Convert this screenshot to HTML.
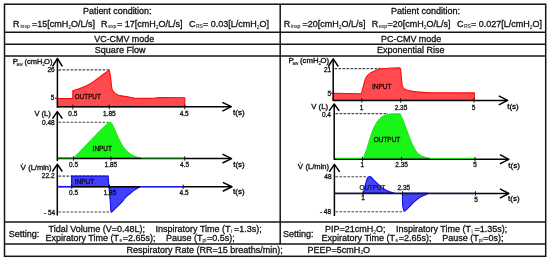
<!DOCTYPE html>
<html><head><meta charset="utf-8">
<style>
html,body{margin:0;padding:0;background:#fff;width:550px;height:262px;overflow:hidden}
svg{display:block}
text{font-family:"Liberation Sans",Arial,sans-serif;fill:#111;stroke:#111;stroke-width:0.3px}
.h{font-size:9px}
.s{font-size:5px;stroke-width:0.1px;fill:#333}
.s2{font-size:4.6px;stroke-width:0.1px}
.ax{font-size:8px;stroke-width:0.35px}
.tk{font-size:6.5px;stroke-width:0.3px}
.lb{font-size:6.5px;fill:#200}
.ln{stroke:#151515;stroke-width:1.5;fill:none}
.axl{stroke:#000;stroke-width:1.5;fill:none;stroke-linejoin:round;stroke-linecap:butt}
.dash{stroke:#444;stroke-width:1.1;stroke-dasharray:2.6 1.4;fill:none}
.tick{stroke:#000;stroke-width:0.9}
</style></head><body>
<svg width="550" height="262" viewBox="0 0 550 262">
<rect x="0" y="0" width="550" height="262" fill="#fff"/>

<!-- table grid -->
<rect x="4.5" y="4.2" width="541.2" height="252.1" class="ln"/>
<line x1="4" y1="32.3" x2="546" y2="32.3" class="ln"/>
<line x1="4" y1="44.2" x2="546" y2="44.2" class="ln"/>
<line x1="4" y1="55.9" x2="546" y2="55.9" class="ln"/>
<line x1="4" y1="222" x2="546" y2="222" class="ln"/>
<line x1="4" y1="244.1" x2="546" y2="244.1" class="ln"/>
<line x1="280.2" y1="4" x2="280.2" y2="244" class="ln"/>

<!-- header left -->
<text class="h" x="83" y="14" textLength="68.5" lengthAdjust="spacingAndGlyphs">Patient condition:</text>
<text class="h" x="13" y="26.5">R</text><text class="s" x="20.5" y="27.9">insp</text>
<text class="h" x="32" y="26.5">=15[cmH</text><text class="s" x="68.3" y="28.6">2</text><text class="h" x="71" y="26.5">O/L/s]</text>
<text class="h" x="101" y="26.5">R</text><text class="s" x="108.3" y="27.9">exp</text>
<text class="h" x="117" y="26.5">= 17[cmH</text><text class="s" x="155.8" y="28.6">2</text><text class="h" x="158.5" y="26.5">O/L/s]</text>
<text class="h" x="189" y="26.5">C</text><text class="s" x="196" y="27.9">RS</text>
<text class="h" x="203" y="26.5">= 0.03[L/cmH</text><text class="s" x="256.8" y="28.6">2</text><text class="h" x="259.5" y="26.5">O]</text>

<!-- header right -->
<text class="h" x="391" y="14" textLength="69" lengthAdjust="spacingAndGlyphs">Patient condition:</text>
<text class="h" x="283.7" y="26.5">R</text><text class="s" x="291" y="27.9">insp</text>
<text class="h" x="302.5" y="26.5">=20[cmH</text><text class="s" x="338.8" y="28.6">2</text><text class="h" x="341.5" y="26.5">O/L/s]</text>
<text class="h" x="371.8" y="26.5">R</text><text class="s" x="379" y="27.9">exp</text>
<text class="h" x="387.5" y="26.5">=20[cmH</text><text class="s" x="423.8" y="28.6">2</text><text class="h" x="426.5" y="26.5">O/L/s]</text>
<text class="h" x="457" y="26.5">C</text><text class="s" x="464" y="27.9">RS</text>
<text class="h" x="471" y="26.5">= 0.027[L/cmH</text><text class="s" x="529.8" y="28.6">2</text><text class="h" x="532.5" y="26.5">O]</text>

<text class="h" x="94.2" y="41.5" textLength="60" lengthAdjust="spacingAndGlyphs">VC-CMV mode</text>
<text class="h" x="94.8" y="52.5" textLength="50.7" lengthAdjust="spacingAndGlyphs">Square Flow</text>
<text class="h" x="381" y="41.5" textLength="60.3" lengthAdjust="spacingAndGlyphs">PC-CMV mode</text>
<text class="h" x="377" y="52.5" textLength="67.5" lengthAdjust="spacingAndGlyphs">Exponential Rise</text>

<g>
<line x1="58.5" y1="69.9" x2="109" y2="69.9" class="dash"/>
<line x1="58.5" y1="122.2" x2="108" y2="122.2" class="dash"/>
<line x1="58.5" y1="176.1" x2="108" y2="176.1" class="dash"/>
<line x1="58.5" y1="212" x2="111" y2="212" class="dash"/>
<line x1="334.5" y1="68.6" x2="380" y2="68.6" class="dash"/>
<line x1="335.5" y1="113.6" x2="388" y2="113.6" class="dash"/>
<line x1="335.5" y1="176.7" x2="367.5" y2="176.7" class="dash"/>
<line x1="335.5" y1="211.8" x2="404" y2="211.8" class="dash"/>
</g>
<!-- ===== LEFT CHARTS ===== -->
<!-- Paw left -->
<path d="M57.4,106.7 L57.4,98.5 L72.8,98.5 L72.8,90.8 C77,89.6 82,87.9 87.2,85.5 C91,83.7 94,81.5 97.5,78.6 C101,76 105,73 109.3,70.2 C110,73 110.6,77 110.9,80 C111.2,84 111.6,88 112.4,90.3 C113.5,92.2 115.5,94 118,95 C120,95.7 123,96.2 128,96.9 C130,97.3 132,97.8 134,98.1 L150,98.4 C154,98.3 156,97.7 159.4,97.6 L184.8,97.7 L184.8,106.7 Z" fill="#ff4a4f" stroke="#ff0808" stroke-width="1.1"/>
<text class="lb" x="74.8" y="98.6" textLength="26" lengthAdjust="spacingAndGlyphs">OUTPUT</text>

<!-- V left -->
<path d="M57.4,158 L73.7,158 L100,130.6 L107.5,123.6 C108.7,122.5 109.6,122 110.3,122.1 C111,122.4 111.8,123.5 112.6,125 C114,127.5 115.8,132 117.7,136.5 C119.8,141 122.2,145.6 124.9,149 C127.5,152 130.5,154.6 133.9,155.9 C136,156.9 138.5,157.6 141,158 Z" fill="#19f519" stroke="#10e010" stroke-width="0.9"/>
<text class="lb" x="92.6" y="151.2" textLength="19.4" lengthAdjust="spacingAndGlyphs">INPUT</text>

<!-- Flow left -->
<path d="M71.6,186.6 L71.6,176.1 L108.2,176.1 L108.9,186.6 Z" fill="#4040ff" stroke="#1010e8" stroke-width="1.1"/>
<path d="M108.9,186.6 L110.3,202 L110.8,210.5 L111.6,212.1 L122.1,202 C123.3,200.2 124.4,198.6 125.6,197.3 C127,195.9 128.5,194.6 130.1,193.5 C131.5,192.4 132.7,191.3 134,190.4 C135.3,189.5 136.5,188.8 137.8,188.1 C138.8,187.5 139.8,187 140.8,186.6 Z" fill="#4040ff" stroke="#1010e8" stroke-width="1.1"/>
<text class="lb" x="74.8" y="184.3" textLength="19.4" lengthAdjust="spacingAndGlyphs">INPUT</text>

<!-- axes left -->
<g class="axl">
<path d="M57.4,108 L57.4,58.8"/><path d="M52.6,66.3 L57.4,58.5 L62.4,66.3"/>
<path d="M57,106.7 L231,106.7"/><path d="M222.3,102.3 L231.3,106.7 L222.3,111.1"/>
<path d="M57.3,161 L57.3,112"/><path d="M52.5,118.6 L57.3,111.6 L62.4,118.6"/>
<path d="M57,158.6 L231.2,158.6"/><path d="M222.5,154.2 L231.5,158.6 L222.5,163"/>
<path d="M57.3,215.5 L57.3,164.6"/><path d="M52.4,171.5 L57.3,164.3 L62.3,171.5"/>
<path d="M57,186.8 L231.6,186.8"/><path d="M222.8,182.4 L231.9,186.8 L222.8,191.2"/>
</g>
<line x1="58" y1="157.9" x2="73.7" y2="157.9" stroke="#10e010" stroke-width="1"/>
<line x1="141" y1="157.9" x2="184.7" y2="157.9" stroke="#10e010" stroke-width="1"/>
<line x1="58" y1="186.5" x2="71.6" y2="186.5" stroke="#1a1af5" stroke-width="1.2"/>
<line x1="140" y1="186.5" x2="183.2" y2="186.5" stroke="#1a1af5" stroke-width="1.2"/>
<g class="tick">
<line x1="72.8" y1="104.7" x2="72.8" y2="109.3"/><line x1="109.3" y1="104.7" x2="109.3" y2="109.3"/><line x1="184.8" y1="104.7" x2="184.8" y2="109.3"/>
<line x1="73.5" y1="156.3" x2="73.5" y2="160.6"/><line x1="110.9" y1="156.3" x2="110.9" y2="160.6"/><line x1="184.7" y1="156.3" x2="184.7" y2="160.6"/>
<line x1="71.8" y1="184.6" x2="71.8" y2="188.9"/><line x1="109.5" y1="184.6" x2="109.5" y2="188.9"/><line x1="183.2" y1="184.6" x2="183.2" y2="188.9"/>
<line x1="55" y1="98.3" x2="57" y2="98.3"/>
</g>

<!-- left labels -->
<text class="ax" x="12.7" y="63.5">P</text><text class="s2" x="16.6" y="65.6">aw</text>
<text class="ax" x="24.6" y="63.5" textLength="17.8" lengthAdjust="spacingAndGlyphs">(cmH</text><text class="s2" x="42.3" y="65.8">2</text><text class="ax" x="44" y="63.5" textLength="8.5" lengthAdjust="spacingAndGlyphs">O)</text>
<text class="tk" x="54.7" y="71.8" text-anchor="end">26</text>
<text class="tk" x="54.4" y="100" text-anchor="end">5</text>
<text class="tk" x="72.8" y="115.6" text-anchor="middle">0.5</text>
<text class="tk" x="109.3" y="115.6" text-anchor="middle">1.85</text>
<text class="tk" x="184.2" y="115.6" text-anchor="middle">4.5</text>
<text class="ax" x="233" y="115.4" font-size="7.3">t(s)</text>

<text class="ax" x="34.4" y="115.9" textLength="16.4" lengthAdjust="spacingAndGlyphs">V (L)</text>
<text class="tk" x="54.7" y="125" text-anchor="end">0.48</text>
<text class="tk" x="73.5" y="166.8" text-anchor="middle">0.5</text>
<text class="tk" x="110.9" y="166.8" text-anchor="middle">1.85</text>
<text class="tk" x="184.5" y="166.8" text-anchor="middle">4.5</text>
<text class="ax" x="233.2" y="166.9" font-size="7.3">t(s)</text>

<text class="ax" x="20.4" y="169.7">V</text><circle cx="22.6" cy="163.8" r="0.65" fill="#111"/><text class="ax" x="28.2" y="169.6" textLength="23.3" lengthAdjust="spacingAndGlyphs">(L/min)</text>
<text class="tk" x="54.5" y="178.4" text-anchor="end">22.2</text>
<text class="tk" x="55.2" y="215.1" text-anchor="end">- 54</text>
<text class="tk" x="73.5" y="194.5" text-anchor="middle">0.5</text>
<text class="tk" x="110" y="194.5" text-anchor="middle">1.85</text>
<text class="tk" x="184.1" y="194.5" text-anchor="middle">4.5</text>
<text class="ax" x="233" y="194.2" font-size="7.3">t(s)</text>

<!-- ===== RIGHT CHARTS ===== -->
<!-- Paw right -->
<path d="M333.2,100.4 L333.2,93.2 C345,93.4 355,93.6 361.2,93.7 C361.9,92 362.5,89.8 363,87.5 C363.6,85 364.3,82.5 364.9,80.6 C365.5,78.8 366.1,77.4 366.9,76.3 C367.8,75 368.7,74.2 369.8,73.4 C371.1,72.5 372.5,71.8 374,71.2 C375.7,70.5 377.9,69.3 380.3,68.7 C383,68.4 385,68.2 387.2,68.2 L399.2,67.8 C399.8,67.8 400.3,68.1 400.6,69 C400.9,72 401.1,75 401.3,77.2 C401.6,80.5 401.9,83.5 402.3,85.9 C402.8,87.4 403.5,88.4 404.4,89 C405.8,89.8 407.5,90.3 409.5,90.7 C411.5,91.1 413.8,91.6 416.4,91.9 C420,92.3 425,92.6 430,92.8 L474.3,92.9 L474.3,100.4 Z" fill="#ff4a4f" stroke="#ff0808" stroke-width="1.1"/>
<text class="lb" x="372" y="89" textLength="19.5" lengthAdjust="spacingAndGlyphs">INPUT</text>

<!-- V right -->
<path d="M334.5,158.4 L363.3,158.4 C364.4,155.5 365.5,152.5 366.6,149.6 C367.6,146.3 368.5,143 369.5,139.7 C370.6,136.4 371.7,133 372.9,129.8 C374.2,126.8 375.6,124.2 377,121.9 C378.6,119.8 380.1,118.1 381.7,116.9 C383.5,115.8 385.6,114.9 387.7,114.4 C389,114.1 390,114 391,113.9 L400.2,113.8 C401.1,116 402.3,118.5 403.2,120.4 C404.2,123 405.2,126 406.2,128.6 C407.5,132 408.7,135.5 410,138.9 C411.2,141.8 412.5,144.7 413.8,147.2 C415.1,149.6 416.4,151.7 417.8,153.4 C419.5,155 421.1,155.8 423,156.5 C425.3,157.3 427.5,157.9 430,158.4 Z" fill="#19f519" stroke="#10e010" stroke-width="0.9"/>
<text class="lb" x="373.7" y="141.7" textLength="26.6" lengthAdjust="spacingAndGlyphs">OUTPUT</text>

<!-- Flow right -->
<path d="M363.2,193.4 C363.8,191.2 364.3,189 364.8,186.9 C365.3,184.9 365.8,182.8 366.4,180.9 C366.9,179.2 367.5,177.8 368.3,177 C369.1,176.5 370.1,176.5 371,177 C372,178 373,179.2 374.1,180.4 C375.3,181.6 376.6,182.8 377.9,183.9 C379.2,185.1 380.5,186.3 381.8,187.4 C383.1,188.3 384.4,189.1 385.8,189.9 C387.1,190.6 388.4,191.2 389.8,191.7 C391.5,192.4 393,192.9 394.7,193.4 Z" fill="#4444ff" stroke="#1010e8" stroke-width="1.1"/>
<path d="M402.4,193.4 L402.6,205 C402.8,207.5 403.3,209.5 404,210.6 L404.7,211.2 C406,210 407.4,208.7 408.7,207.3 C410.2,205.8 411.8,204.2 413.3,202.7 C414.8,201.3 416.4,199.9 417.9,198.7 C419.4,197.7 420.9,196.7 422.5,195.9 C424.4,195 426.3,194.2 428.2,193.4 Z" fill="#4444ff" stroke="#1010e8" stroke-width="1.1"/>
<text class="lb" x="359.6" y="189.6" textLength="25.8" lengthAdjust="spacingAndGlyphs" style="fill:#1a1a1a;stroke:#1a1a1a;stroke-width:0.25px">OUTPUT</text>

<!-- axes right -->
<g class="axl">
<path d="M333.2,101 L333.2,59.3"/><path d="M328.2,66.5 L333.2,58.9 L338.3,66.5"/>
<path d="M333,100.4 L507.3,100.4"/><path d="M498.8,95.9 L507.6,100.4 L498.8,104.9"/>
<path d="M334.2,159.8 L334.2,104.4"/><path d="M329.1,110.9 L334.2,104 L339.2,110.9"/>
<path d="M334,159.3 L508.5,159.3"/><path d="M499.9,154.7 L508.8,159.3 L499.9,163.9"/>
<path d="M334.4,216 L334.4,164.8"/><path d="M329.3,171.9 L334.4,164.4 L339.7,171.9"/>
<path d="M334.5,193.5 L508.5,193.5"/><path d="M499.9,188.9 L508.8,193.5 L499.9,198.1"/>
</g>
<line x1="335" y1="158.4" x2="363.3" y2="158.4" stroke="#10e010" stroke-width="1"/>
<line x1="430" y1="158.4" x2="475" y2="158.4" stroke="#10e010" stroke-width="1"/>
<line x1="335" y1="193.4" x2="475.3" y2="193.4" stroke="#10105a" stroke-width="1.4"/>
<g class="tick">
<line x1="361.8" y1="98.2" x2="361.8" y2="102.6"/><line x1="400.6" y1="98.2" x2="400.6" y2="102.6"/><line x1="474" y1="98.2" x2="474" y2="102.6"/>
<line x1="362.5" y1="157" x2="362.5" y2="161.3"/><line x1="401.6" y1="157" x2="401.6" y2="161.3"/><line x1="475" y1="157" x2="475" y2="161.3"/>
<line x1="363" y1="191.3" x2="363" y2="195.6"/><line x1="402.5" y1="191.3" x2="402.5" y2="195.6"/><line x1="475.5" y1="191.3" x2="475.5" y2="195.6"/>
<line x1="331" y1="93.2" x2="333" y2="93.2"/>
</g>

<!-- right labels -->
<text class="ax" x="288.6" y="63">P</text><text class="s2" x="292.4" y="65.1">aw</text>
<text class="ax" x="300" y="63" textLength="18.6" lengthAdjust="spacingAndGlyphs">(cmH</text><text class="s2" x="318.6" y="65.3">2</text><text class="ax" x="320.4" y="63" textLength="8.6" lengthAdjust="spacingAndGlyphs">O)</text>
<text class="tk" x="331.2" y="71.6" text-anchor="end">21</text>
<text class="tk" x="331" y="95.6" text-anchor="end">5</text>
<text class="tk" x="361.5" y="109.8" text-anchor="middle">1</text>
<text class="tk" x="401" y="109.8" text-anchor="middle">2.35</text>
<text class="tk" x="473.5" y="109.8" text-anchor="middle">5</text>
<text class="ax" x="507.2" y="109.2" font-size="7.3">t(s)</text>

<text class="ax" x="311.2" y="108.8" textLength="16.9" lengthAdjust="spacingAndGlyphs">V (L)</text>
<text class="tk" x="331" y="116.6" text-anchor="end">0.4</text>
<text class="tk" x="362.3" y="167" text-anchor="middle">1</text>
<text class="tk" x="401.6" y="167" text-anchor="middle">2.35</text>
<text class="tk" x="475" y="167.2" text-anchor="middle">5</text>
<text class="ax" x="508.3" y="168.3" font-size="7.3">t(s)</text>

<text class="ax" x="297.7" y="168.9">V</text><circle cx="300.4" cy="162.8" r="0.65" fill="#111"/><text class="ax" x="305.5" y="168.9" textLength="23.6" lengthAdjust="spacingAndGlyphs">(L/min)</text>
<text class="tk" x="331.6" y="179.2" text-anchor="end">48</text>
<text class="tk" x="331" y="213.8" text-anchor="end">- 48</text>
<text class="tk" x="363" y="199.8" text-anchor="middle">1</text>
<text class="tk" x="403.8" y="190.2" text-anchor="middle">2.35</text>
<text class="tk" x="476" y="201.5" text-anchor="middle">5</text>
<text class="ax" x="508" y="201.3" font-size="7.3">t(s)</text>

<!-- settings -->
<text class="h" x="8.8" y="236.8">Setting:</text>
<text class="h" x="48.5" y="232.2">Tidal Volume (V=0.48L);</text>
<text class="h" x="155.6" y="232.2">Inspiratory Time (T</text><text class="s" x="231" y="233.2">i</text><text class="h" x="234" y="232.2">=1.3s);</text>
<text class="h" x="45.5" y="241.1">Expiratory Time (T</text><text class="s" x="119.5" y="242">e</text><text class="h" x="122.7" y="241.1">=2.65s);</text>
<text class="h" x="166" y="241.1">Pause (T</text><text class="s" x="202.5" y="242">pl</text><text class="h" x="207" y="241.1">=0.5s);</text>

<text class="h" x="283" y="236.8">Setting:</text>
<text class="h" x="325" y="232.2">PIP=21cmH</text><text class="s" x="373.3" y="234">2</text><text class="h" x="376" y="232.2">O;</text>
<text class="h" x="395.9" y="232.2">Inspiratory Time (T</text><text class="s" x="471.4" y="233.2">i</text><text class="h" x="474.4" y="232.2"> =1.35s);</text>
<text class="h" x="321.6" y="241.1">Expiratory Time (T</text><text class="s" x="395.6" y="242">e</text><text class="h" x="398.8" y="241.1">=2.65s);</text>
<text class="h" x="442.3" y="241.1">Pause (T</text><text class="s" x="478.8" y="242">pl</text><text class="h" x="483.3" y="241.1">=0s);</text>

<text class="h" x="126.5" y="252.5">Respiratory Rate (RR=15 breaths/min);</text>
<text class="h" x="307.6" y="252.5">PEEP=5cmH</text><text class="s" x="360.4" y="254.3">2</text><text class="h" x="363" y="252.5">O</text>
</svg>
</body></html>
